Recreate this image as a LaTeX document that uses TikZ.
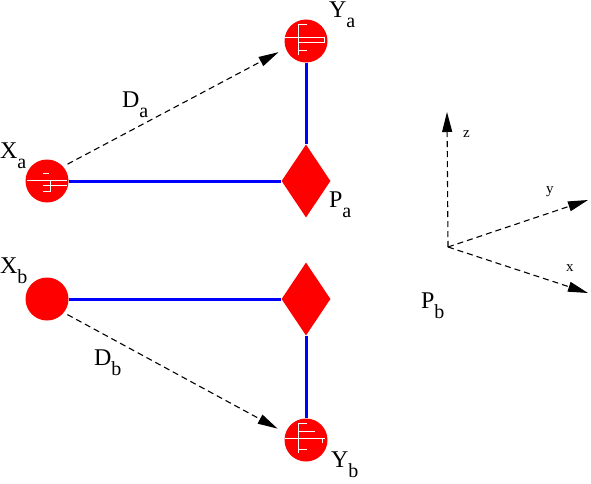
\documentclass[tikz,border=0pt]{standalone}
\usepackage{fontspec}
\setmainfont{Liberation Serif}
\usetikzlibrary{shapes.geometric,arrows.meta}
\newcommand\subl[2]{\fontsize{24}{24}\selectfont #1\raisebox{-10pt}{\fontsize{20}{20}\selectfont #2}}
\begin{document}
\begin{tikzpicture}[x=1pt,y=-1pt,
  ball/.style={circle,fill=red,draw=none,minimum size=43pt,inner sep=0pt},
  dia/.style={diamond,fill=red,draw=none,minimum width=49pt,minimum height=73pt,inner sep=0pt},
  link/.style={draw={rgb,255:red,0;green,0;blue,255},line width=3pt},
  darrow/.style={draw=black,line width=1.1pt,dash pattern=on 6pt off 4pt,-{Triangle[length=20pt,width=10pt]}},
  wmark/.style={draw=white,line width=0.8pt},
  lab/.style={anchor=base west,inner sep=0pt,outer sep=0pt},
  axlab/.style={anchor=base west,inner sep=0pt,font=\fontsize{15}{15}\selectfont}]
\useasboundingbox (0,0) rectangle (591,484);
% nodes
\node[ball] (Xa) at (47,181) {};
\node[ball] (Ya) at (306,41) {};
\node[dia]  (Pa) at (306,181) {};
\node[ball] (Xb) at (47,299) {};
\node[dia]  (Pb) at (306,299) {};
\node[ball] (Yb) at (306,440) {};
% blue links
\draw[link] (Xa.east) -- (Pa.west);
\draw[link] (Ya.south) -- (Pa.north);
\draw[link] (Xb.east) -- (Pb.west);
\draw[link] (Pb.south) -- (Yb.north);
% white marks inside the balls
\begin{scope}[shift={(Ya.center)}]
  \draw[wmark] (-21,-4) -- (19,-4);
  \draw[wmark] (1,-17) -- (-8,-17) -- (-8,14);
  \draw[wmark] (-8,1) -- (18,1) -- (18,-4);
  \draw[wmark] (-8,9) -- (1,9);
\end{scope}
\begin{scope}[shift={(Xa.center)}]
  \draw[wmark] (-4,-8) -- (2,-8);
  \draw[wmark] (-20,-1) -- (20,-1);
  \draw[wmark] (-4,4) -- (20,4);
  \draw[wmark] (3,-1) -- (3,10) -- (-4,10);
\end{scope}
\begin{scope}[shift={(Yb.center)}]
  \draw[wmark] (1,-17) -- (-8,-17) -- (-8,13);
  \draw[wmark] (-8,-9) -- (9,-9);
  \draw[wmark] (-21,-2) -- (19,-2);
  \draw[wmark] (16,-2) -- (16,3);
  \draw[wmark] (-8,9) -- (1,9);
\end{scope}
% dashed arrows
\draw[darrow,shorten <=5pt,shorten >=8pt] (Xa.42) -- (Ya.200);
\draw[darrow,shorten <=4pt,shorten >=9pt] (Xb.-39) -- (Yb.161);
% labels
\node[lab] (lXa) at (0,158) {\subl{X}{a}};
\node[lab] (lDa) at (122,107) {\subl{D}{a}};
\node[lab] (lYa) at (329,18) {\subl{Y}{a}};
\node[lab] (lPa) at (329,207) {\subl{P}{a}};
\node[lab] (lXb) at (0,273) {\subl{X}{b}};
\node[lab] (lDb) at (94,365) {\subl{D}{b}};
\node[lab] (lYb) at (331,467) {\subl{Y}{b}};
\node[lab] (lPb) at (421,308) {\subl{P}{b}};
% axes
\coordinate (O) at (448,247);
\coordinate (zt) at (447,112);
\coordinate (yt) at (588,200);
\coordinate (xt) at (588,293);
\draw[darrow] (O) -- (zt);
\draw[darrow] (O) -- (yt);
\draw[darrow] (O) -- (xt);
\node[axlab] (lz) at (463,137) {z};
\node[axlab] (ly) at (546,193) {y};
\node[axlab] (lx) at (566,271) {x};
\end{tikzpicture}
\end{document}
